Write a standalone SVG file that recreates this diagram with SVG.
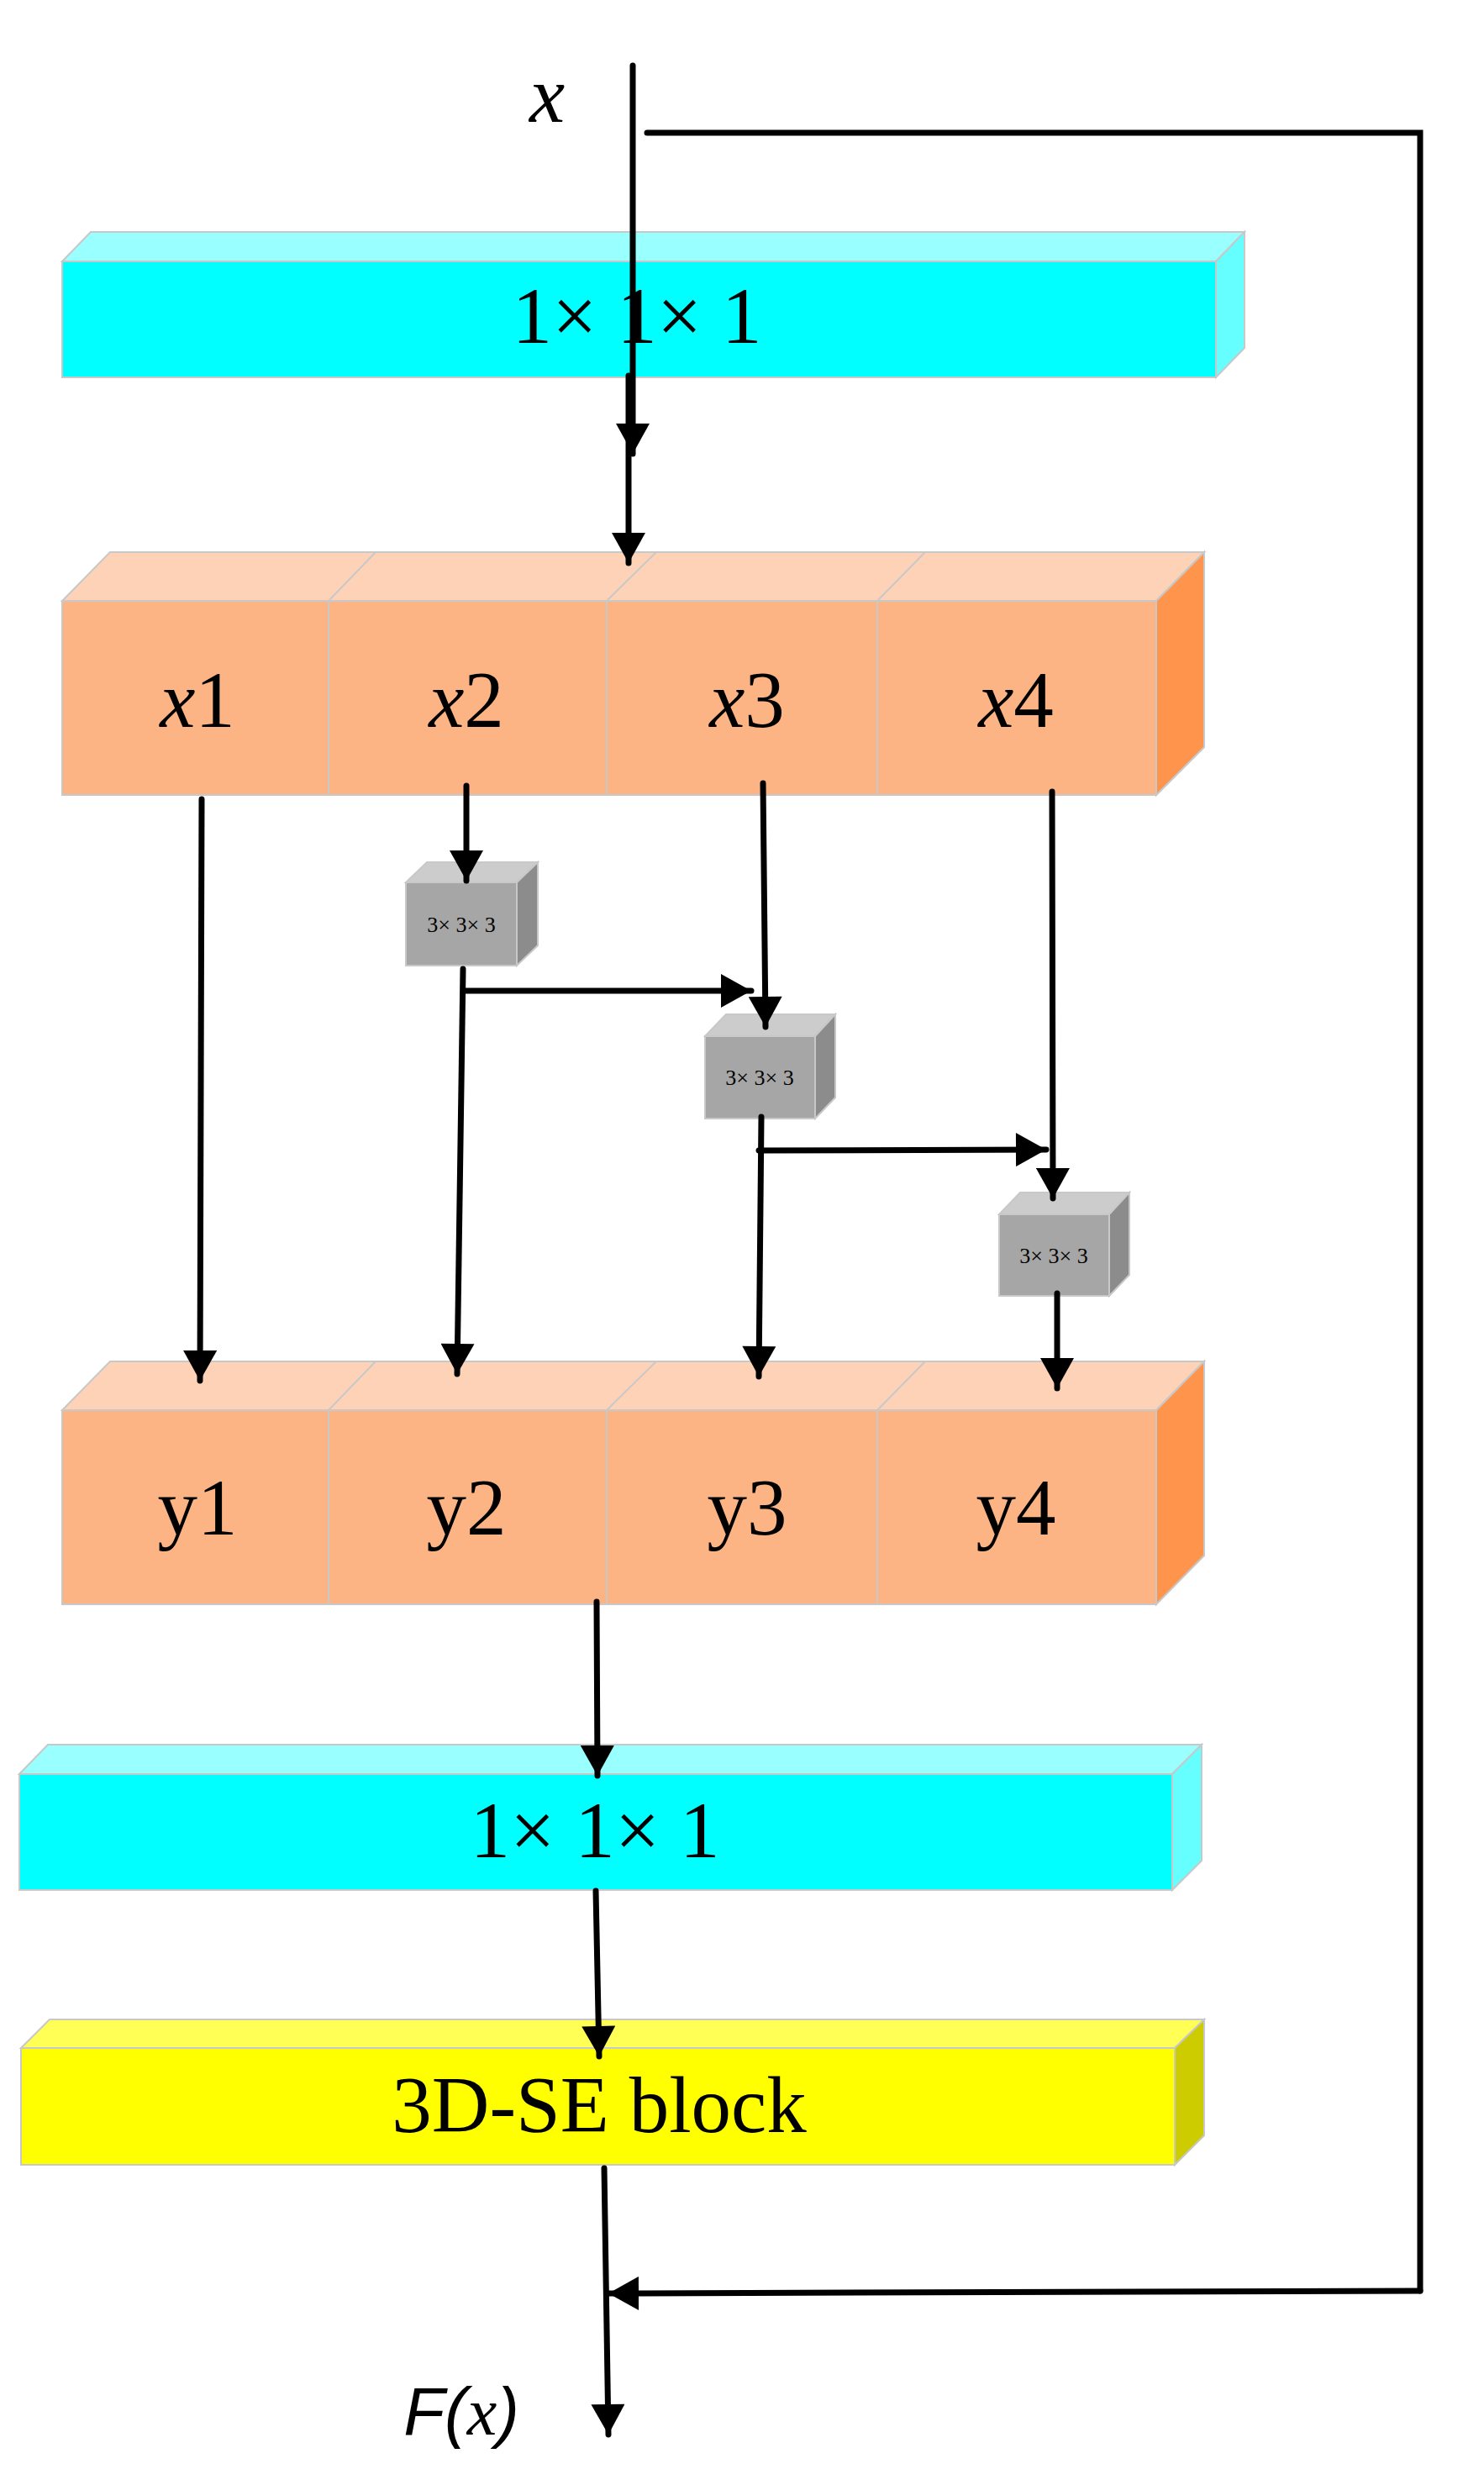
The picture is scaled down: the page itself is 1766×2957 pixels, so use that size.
<svg xmlns="http://www.w3.org/2000/svg" width="1766" height="2957" viewBox="0 0 1766 2957">
<style>
.e{stroke:#C8C8C8;stroke-width:2}
.t{font-family:"Liberation Serif",serif;font-size:95px;text-anchor:middle;fill:#000}
.s{font-family:"Liberation Serif",serif;font-size:26px;text-anchor:middle;fill:#000}
.c{stroke:#000;stroke-width:7;fill:none;stroke-linecap:round}
</style>
<defs>
<marker id="a" markerUnits="userSpaceOnUse" markerWidth="40" markerHeight="40" viewBox="0 0 36 40" refX="36" refY="20" orient="auto"><path d="M0,0 L36,20 L0,40 Z" fill="#000"/></marker>
</defs>
<g id="cyan1">
<polygon class="e" points="74,311 108,276 1481,276 1447,311" fill="#99FFFF"/>
<polygon class="e" points="1447,311 1481,276 1481,414 1447,449" fill="#66FFFF"/>
<rect class="e" x="74" y="311" width="1373" height="138" fill="#00FFFF"/>
<text class="t" x="758" y="408">1× 1× 1</text>
</g>
<g id="xrow">
<polygon class="e" points="74,715 131,657 1433,657 1376,715" fill="#FDD2B6"/>
<polygon class="e" points="1376,715 1433,657 1433,889 1376,946" fill="#FF954D"/>
<rect class="e" x="74" y="715" width="1302" height="231" fill="#FCB485"/>
<path class="e" d="M391,715V946M722,715V946M1044,715V946M391,715L447,657M722,715L781,657M1044,715L1101,657" fill="none"/>
<text class="t" x="235" y="865"><tspan font-style="italic">x</tspan>1</text>
<text class="t" x="555" y="865"><tspan font-style="italic">x</tspan>2</text>
<text class="t" x="889" y="865"><tspan font-style="italic">x</tspan>3</text>
<text class="t" x="1209" y="865"><tspan font-style="italic">x</tspan>4</text>
</g>
<g id="conv1">
<polygon class="e" points="483,1050 508,1026 640,1026 615,1050" fill="#CCCCCC"/>
<polygon class="e" points="615,1050 640,1026 640,1125 615,1149" fill="#8C8C8C"/>
<rect class="e" x="483" y="1050" width="132" height="99" fill="#A6A6A6"/>
<text class="s" x="549" y="1109">3× 3× 3</text>
</g>
<g id="conv2">
<polygon class="e" points="839,1233 864,1207 994,1207 970,1233" fill="#CCCCCC"/>
<polygon class="e" points="970,1233 994,1207 994,1306 970,1331" fill="#8C8C8C"/>
<rect class="e" x="839" y="1233" width="131" height="98" fill="#A6A6A6"/>
<text class="s" x="904" y="1291">3× 3× 3</text>
</g>
<g id="conv3">
<polygon class="e" points="1189,1445 1214,1419 1344,1419 1320,1445" fill="#CCCCCC"/>
<polygon class="e" points="1320,1445 1344,1419 1344,1517 1320,1542" fill="#8C8C8C"/>
<rect class="e" x="1189" y="1445" width="131" height="97" fill="#A6A6A6"/>
<text class="s" x="1254" y="1503">3× 3× 3</text>
</g>
<g id="yrow">
<polygon class="e" points="74,1678 131,1620 1433,1620 1376,1678" fill="#FDD2B6"/>
<polygon class="e" points="1376,1678 1433,1620 1433,1851 1376,1909" fill="#FF954D"/>
<rect class="e" x="74" y="1678" width="1302" height="231" fill="#FCB485"/>
<path class="e" d="M391,1678V1909M722,1678V1909M1044,1678V1909M391,1678L447,1620M722,1678L781,1620M1044,1678L1101,1620" fill="none"/>
<text class="t" x="235" y="1826">y1</text>
<text class="t" x="555" y="1826">y2</text>
<text class="t" x="889" y="1826">y3</text>
<text class="t" x="1209" y="1826">y4</text>
</g>
<g id="cyan2">
<polygon class="e" points="23,2111 57,2076 1430,2076 1395,2111" fill="#99FFFF"/>
<polygon class="e" points="1395,2111 1430,2076 1430,2214 1395,2249" fill="#66FFFF"/>
<rect class="e" x="23" y="2111" width="1372" height="138" fill="#00FFFF"/>
<text class="t" x="708" y="2210">1× 1× 1</text>
</g>
<g id="se">
<polygon class="e" points="25,2437 59,2403 1433,2403 1398,2437" fill="#FFFF55"/>
<polygon class="e" points="1398,2437 1433,2403 1433,2541 1398,2576" fill="#CCCC00"/>
<rect class="e" x="25" y="2437" width="1373" height="139" fill="#FFFF00"/>
<text class="t" x="713" y="2537">3D-SE block</text>
</g>
<g id="labels">
<text class="t" x="651" y="145" font-style="italic" font-size="100">x</text>
<text x="549" y="2897" font-family="Liberation Sans,sans-serif" font-style="italic" font-size="80" text-anchor="middle">F(<tspan font-family="Liberation Serif,serif">x</tspan>)</text>
</g>
<g id="connectors">
<path class="c" d="M753,78V540" marker-end="url(#a)"/>
<path class="c" d="M770,158H1690V2726"/>
<path class="c" d="M1690,2726L724,2729" marker-end="url(#a)"/>
<path class="c" d="M748,447V670" marker-end="url(#a)"/>
<path class="c" d="M240,951L238,1643" marker-end="url(#a)"/>
<path class="c" d="M555,935V1048" marker-end="url(#a)"/>
<path class="c" d="M908,932L911,1222" marker-end="url(#a)"/>
<path class="c" d="M1252,942L1253,1426" marker-end="url(#a)"/>
<path class="c" d="M551,1153L544,1635" marker-end="url(#a)"/>
<path class="c" d="M552,1179H894" marker-end="url(#a)"/>
<path class="c" d="M906,1329L903,1638" marker-end="url(#a)"/>
<path class="c" d="M903,1369L1245,1368" marker-end="url(#a)"/>
<path class="c" d="M1258,1539V1652" marker-end="url(#a)"/>
<path class="c" d="M710,1906L711,2113" marker-end="url(#a)"/>
<path class="c" d="M709,2250L713,2447" marker-end="url(#a)"/>
<path class="c" d="M719,2580L724,2897" marker-end="url(#a)"/>
</g>
</svg>
